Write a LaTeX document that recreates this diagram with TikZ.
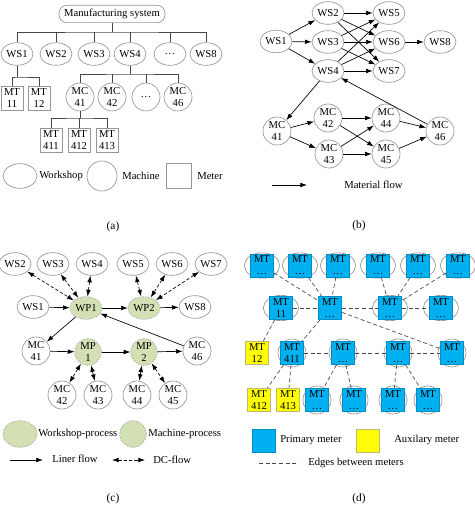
\documentclass[tikz,border=0pt]{standalone}
\usepackage{fontspec}
\setmainfont{Liberation Serif}
\usetikzlibrary{shapes.geometric,arrows.meta}
\definecolor{olv}{RGB}{210,224,180}
\definecolor{pblue}{RGB}{0,176,240}
\definecolor{ygl}{RGB}{255,255,0}
\definecolor{shp}{RGB}{150,150,150}
\definecolor{lne}{RGB}{70,70,70}
\begin{document}
\begin{tikzpicture}[x=0.75pt,y=-0.75pt, font=\fontsize{8}{9}\selectfont,
 every node/.style={inner sep=0pt, align=center},
 wse/.style={ellipse, draw=shp, line width=0.5pt, minimum width=24pt, minimum height=17pt},
 mcc/.style={circle, draw=shp, line width=0.5pt, minimum size=21pt},
 mtb/.style={rectangle, draw=shp, line width=0.5pt, minimum width=16.5pt, minimum height=18pt},
 tree/.style={draw=lne, line width=0.6pt},
 flow/.style={-{Latex[length=5pt,width=3.5pt]}, line width=0.5pt},
 dcf/.style={{Latex[length=5pt,width=3.5pt]}-{Latex[length=5pt,width=3.5pt]}, dash pattern=on 2.5pt off 1.5pt, line width=0.5pt},
 wp/.style={ellipse, fill=olv, draw=shp, dash pattern=on 1pt off 1pt, line width=0.4pt, minimum width=24pt, minimum height=17pt},
 mp/.style={circle, fill=olv, draw=shp, dash pattern=on 1pt off 1pt, line width=0.4pt, minimum size=20pt},
 pm/.style={rectangle, fill=pblue, draw=pblue!80!black, line width=0.4pt, minimum size=17.5pt},
 am/.style={rectangle, fill=ygl, draw=yellow!40!gray, line width=0.4pt, minimum size=17.5pt},
 de/.style={ellipse, draw=shp, line width=0.5pt, minimum width=26.5pt, minimum height=19pt},
 dc/.style={circle, draw=shp, line width=0.5pt, minimum size=21pt},
 edg/.style={draw=lne, dash pattern=on 3pt off 2pt, line width=0.5pt},
 lbl/.style={font=\fontsize{8.5}{9}\selectfont},
 lgt/.style={anchor=west}
]
\useasboundingbox (0,0) rectangle (474,506);

% ---------------- (a) ----------------
\node[draw=shp, line width=0.5pt, rounded corners=6pt, minimum width=79.5pt, minimum height=13pt] (ms) at (112,14) {Manufacturing system};
\node[wse] (a1) at (17,54) {WS1};
\node[wse] (a2) at (56,54) {WS2};
\node[wse] (a3) at (94,54) {WS3};
\node[wse] (a4) at (130,54) {WS4};
\node[wse] (a5) at (170,54) {\dots};
\node[wse] (a8) at (206,54) {WS8};
\coordinate (abus) at (112,32);
\draw[tree] (ms) -- (abus);
\draw[tree] (a1.north) |- (abus) -| (a8.north);
\foreach \n in {a2,a3,a4,a5} \draw[tree] (\n.north) -- (\n.north |- abus);

\node[mtb] (m11) at (12,98) {MT\\11};
\node[mtb] (m12) at (39,98) {MT\\12};
\coordinate (wbus) at (17,77);
\draw[tree] (a1) -- (wbus);
\draw[tree] (m11.north) |- (wbus) -| (m12.north);

\node[mcc] (c41) at (80,97) {MC\\41};
\node[mcc] (c42) at (112,97) {MC\\42};
\node[mcc] (c4d) at (146,97) {\dots};
\node[mcc] (c46) at (178,97) {MC\\46};
\coordinate (mbus) at (130,74);
\draw[tree] (a4) -- (mbus);
\draw[tree] (c41.north) |- (mbus) -| (c46.north);
\foreach \n in {c42,c4d} \draw[tree] (\n.north) -- (\n.north |- mbus);

\node[mtb] (t411) at (51,140) {MT\\411};
\node[mtb] (t412) at (79,140) {MT\\412};
\node[mtb] (t413) at (107,140) {MT\\413};
\coordinate (cbus) at (80,118);
\draw[tree] (c41) -- (cbus);
\draw[tree] (t411.north) |- (cbus) -| (t413.north);
\draw[tree] (t412.north) -- (t412.north |- cbus);

\node[ellipse, draw=shp, line width=0.5pt, minimum width=25.5pt, minimum height=18.5pt] (lw) at (20,176) {};
\node[lgt] (lwt) at (39,176) {Workshop};
\node[circle, draw=shp, line width=0.5pt, minimum size=22.5pt] (lc) at (102,176) {};
\node[lgt] (lct) at (122,176) {Machine};
\node[draw=shp, line width=0.5pt, minimum size=19pt] (lm) at (179,176) {};
\node[lgt] (lmt) at (197,176) {Meter};
\node[lbl] (la) at (113,227) {(a)};

% ---------------- (b) ----------------
\node[wse] (b1) at (276,41.5) {WS1};
\node[wse] (b2) at (328,13) {WS2};
\node[wse] (b3) at (328,42) {WS3};
\node[wse] (b4) at (328,71) {WS4};
\node[wse] (b5) at (389,13) {WS5};
\node[wse] (b6) at (389,42) {WS6};
\node[wse] (b7) at (389,71) {WS7};
\node[wse] (b8) at (440,42) {WS8};
\node[mcc] (bc41) at (277,131) {MC\\41};
\node[mcc] (bc42) at (328,118) {MC\\42};
\node[mcc] (bc43) at (329,154) {MC\\43};
\node[mcc] (bc44) at (386,118) {MC\\44};
\node[mcc] (bc45) at (386,154) {MC\\45};
\node[mcc] (bc46) at (440,131) {MC\\46};
\foreach \t in {b2,b3,b4} \draw[flow] (b1) -- (\t);
\foreach \s in {b2,b3,b4} \foreach \t in {b5,b6,b7} \draw[flow] (\s) -- (\t);
\draw[flow] (b6) -- (b8);
\draw[flow] (b4) -- (bc41);
\draw[flow] (bc46) -- (b4);
\draw[flow] (bc41) -- (bc42);
\draw[flow] (bc41) -- (bc43);
\draw[flow] (bc42) -- (bc44);
\draw[flow] (bc42) -- (bc45);
\draw[flow] (bc43) -- (bc44);
\draw[flow] (bc43) -- (bc45);
\draw[flow] (bc44) -- (bc46);
\draw[flow] (bc45) -- (bc46);
\coordinate (bl1) at (272,185);
\coordinate (bl2) at (307,185);
\draw[flow] (bl1) -- (bl2);
\node[lgt] (blt) at (344,185) {Material flow};
\node[lbl] (lb) at (359,226) {(b)};

% ---------------- (c) ----------------
\node[wse] (c2) at (15,264) {WS2};
\node[wse] (c3) at (53,264) {WS3};
\node[wse] (c4) at (92,264) {WS4};
\node[wse] (c5) at (133,264) {WS5};
\node[wse] (c6) at (172,264) {WS6};
\node[wse] (c7) at (211,264) {WS7};
\node[wse] (c1) at (33,307) {WS1};
\node[wp] (wp1) at (86,308) {WP1};
\node[wp] (wp2) at (144,308) {WP2};
\node[wse] (c8) at (195,307) {WS8};
\node[mcc] (cm41) at (36,351) {MC\\41};
\node[mp] (mp1) at (88,352) {MP\\1};
\node[mp] (mp2) at (144,352) {MP\\2};
\node[mcc] (cm46) at (197,351) {MC\\46};
\node[mcc] (cm42) at (62,395) {MC\\42};
\node[mcc] (cm43) at (98,395) {MC\\43};
\node[mcc] (cm44) at (137,395) {MC\\44};
\node[mcc] (cm45) at (173,395) {MC\\45};
\foreach \s in {c2,c3,c4} \draw[dcf] (\s) -- (wp1);
\foreach \s in {c5,c6,c7} \draw[dcf] (\s) -- (wp2);
\draw[dcf] (mp1) -- (cm42);
\draw[dcf] (mp1) -- (cm43);
\draw[dcf] (mp2) -- (cm44);
\draw[dcf] (mp2) -- (cm45);
\draw[flow] (c1) -- (wp1);
\draw[flow] (wp1) -- (wp2);
\draw[flow] (wp2) -- (c8);
\draw[flow] (wp1) -- (cm41);
\draw[flow] (cm46) -- (wp1);
\draw[flow] (cm41) -- (mp1);
\draw[flow] (mp1) -- (mp2);
\draw[flow] (mp2) -- (cm46);
\node[wp, minimum width=25.5pt, minimum height=20pt] (lwp) at (20,434) {};
\node[lgt] (lwpt) at (38,434) {Workshop-process};
\node[mp, minimum size=20pt] (lmp) at (133,434) {};
\node[lgt] (lmpt) at (148,434) {Machine-process};
\coordinate (cl1) at (10,460);
\coordinate (cl2) at (43,460);
\draw[flow] (cl1) -- (cl2);
\node[lgt] (clt1) at (52,459) {Liner flow};
\coordinate (cl3) at (112,460);
\coordinate (cl4) at (145,460);
\draw[dcf] (cl3) -- (cl4);
\node[lgt] (clt2) at (153,460) {DC-flow};
\node[lbl] (lcc) at (113,499) {(c)};

% ---------------- (d) ----------------
\foreach \i/\x in {1/262,2/300,3/338,4/378,5/418,6/458} {
  \node[de] (d1\i e) at (\x,265.5) {};
  \node[pm] (d1\i) at (\x,265.5) {MT\\\dots};
}
\node[de] (d21e) at (281,308) {};
\node[pm] (d21) at (281,308) {MT\\11};
\node[pm] (d22) at (330,308) {MT\\\dots};
\node[de] (d23e) at (390,308) {};
\node[pm] (d23) at (390,308) {MT\\\dots};
\node[de] (d24e) at (441,308) {};
\node[pm] (d24) at (441,308) {MT\\\dots};
\node[am] (d31) at (257,353) {MT\\12};
\node[dc] (d32e) at (292,353) {};
\node[pm] (d32) at (292,353) {MT\\411};
\node[dc] (d33e) at (343,353) {};
\node[pm] (d33) at (343,353) {MT\\\dots};
\node[dc] (d34e) at (398,353) {};
\node[pm] (d34) at (398,353) {MT\\\dots};
\node[dc] (d35e) at (452,353) {};
\node[pm] (d35) at (452,353) {MT\\\dots};
\node[am] (d41) at (259,400) {MT\\412};
\node[am] (d42) at (288,400) {MT\\413};
\foreach \i/\x in {3/317,4/354,5/393,6/428} {
  \node[dc] (d4\i e) at (\x,400) {};
  \node[pm] (d4\i) at (\x,400) {MT\\\dots};
}
\foreach \s in {d11,d12,d13} \draw[edg] (\s) -- (d22);
\foreach \s in {d14,d15,d16} \draw[edg] (\s) -- (d23);
\draw[edg] (d21) -- (d22);
\draw[edg] (d22) -- (d23);
\draw[edg] (d23) -- (d24);
\draw[edg] (d21) -- (d31);
\draw[edg] (d22) -- (d32);
\draw[edg] (d22) -- (d35);
\draw[edg] (d32) -- (d33);
\draw[edg] (d33) -- (d34);
\draw[edg] (d34) -- (d35);
\draw[edg] (d32) -- (d41);
\draw[edg] (d32) -- (d42);
\draw[edg] (d33) -- (d43);
\draw[edg] (d33) -- (d44);
\draw[edg] (d34) -- (d45);
\draw[edg] (d34) -- (d46);
\node[pm] (lpm) at (263.5,440.5) {};
\node[lgt] (lpmt) at (280,440) {Primary meter};
\node[am] (lam) at (368,440.5) {};
\node[lgt] (lamt) at (394,440) {Auxilary meter};
\coordinate (dl1) at (259,463);
\coordinate (dl2) at (299,463);
\draw[edg] (dl1) -- (dl2);
\node[lgt] (dlt) at (308,463) {Edges between meters};
\node[lbl] (ldd) at (359,499) {(d)};
\end{tikzpicture}
\end{document}
